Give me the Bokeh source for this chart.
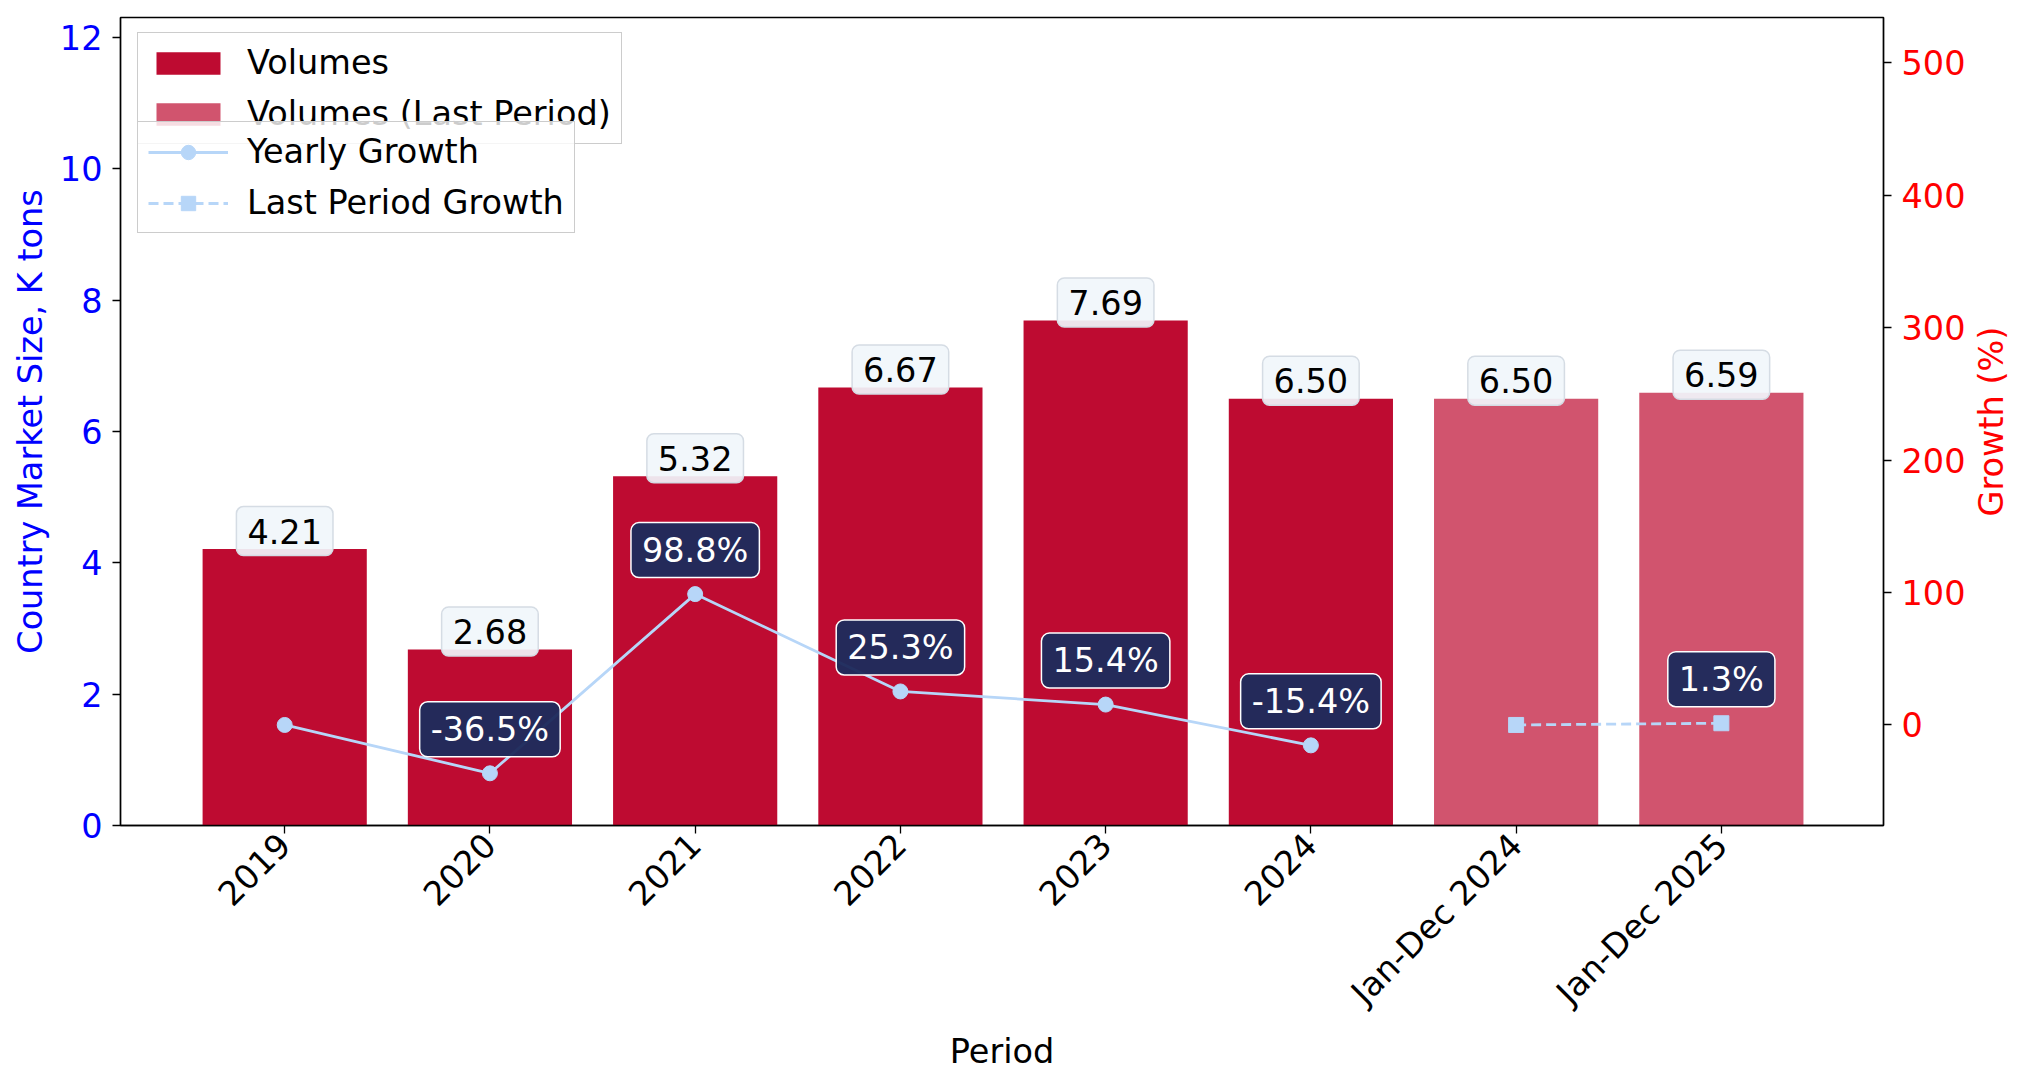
import math
from bokeh.plotting import figure
from bokeh.layouts import row
from bokeh.models import (Range1d, LinearAxis, FixedTicker, Legend, LegendItem,
                          Label, ColumnDataSource)
from bokeh.embed import file_html
from bokeh.resources import INLINE

# ---- data ----
periods = ["2019", "2020", "2021", "2022", "2023", "2024", "Jan-Dec 2024", "Jan-Dec 2025"]
volumes = [4.21, 2.68, 5.32, 6.67, 7.69, 6.50, 6.50, 6.59]
n_yearly = 6
yearly_growth = [0.0, -36.5, 98.8, 25.3, 15.4, -15.4]      # 2019 .. 2024
last_period_growth = [0.0, 1.3]                            # Jan-Dec 2024, Jan-Dec 2025
left_ticks = [0, 2, 4, 6, 8, 10, 12]
right_ticks = [0, 100, 200, 300, 400, 500]
right_title = "Growth (%)"

# ---- styles ----
FONT = "DejaVu Sans"
FS = "33.5px"
BAR = "#BE0B31"
LINE = "#B7D6F8"
NAVY = "#1F2B5C"

FRAME_W, FRAME_H = 1763, 808
xs = list(range(len(periods)))
x_year = xs[:n_yearly]
x_last = xs[n_yearly:]

p = figure(frame_width=FRAME_W, frame_height=FRAME_H,
           x_range=Range1d(-0.8, 7.79), y_range=Range1d(0, 12.305),
           output_backend="svg", toolbar_location=None,
           min_border_left=120, min_border_right=85, min_border_top=17, min_border_bottom=250)
p.extra_y_ranges = {"growth": Range1d(-75.9, 534.1)}
p.xgrid.visible = False
p.ygrid.visible = False
p.outline_line_color = "black"
p.outline_line_width = 1.4
p.outline_line_alpha = 1.0
p.background_fill_color = "white"
p.border_fill_color = "white"

src_year = ColumnDataSource(dict(x=x_year, v=volumes[:n_yearly]))
src_last = ColumnDataSource(dict(x=x_last, v=volumes[n_yearly:]))
r_bar = p.vbar(x="x", top="v", width=0.8, source=src_year, fill_color=BAR, line_color=None)
r_bar_last = p.vbar(x="x", top="v", width=0.8, source=src_last, fill_color=BAR,
                    fill_alpha=0.7, line_color=None)

r_line = p.line(x_year, yearly_growth, y_range_name="growth", line_color=LINE, line_width=2.8)
r_pts = p.scatter(x_year, yearly_growth, y_range_name="growth", marker="circle", size=15,
                  fill_color=LINE, line_color=LINE)
r_line2 = p.line(x_last, last_period_growth, y_range_name="growth", line_color=LINE,
                 line_width=2.8, line_dash="10 5")
r_sq = p.scatter(x_last, last_period_growth, y_range_name="growth", marker="square", size=15,
                 fill_color=LINE, line_color=LINE)

# ---- axes ----
xa = p.xaxis[0]
xa.ticker = FixedTicker(ticks=xs)
xa.major_label_overrides = {i: lab for i, lab in enumerate(periods)}
xa.major_label_orientation = math.pi / 4
xa.axis_label = "Period"

ya = p.yaxis[0]
ya.ticker = FixedTicker(ticks=left_ticks)
ya.axis_label = "Country Market Size, K tons"
ya.axis_label_text_color = "#0000FF"
ya.major_label_text_color = "#0000FF"

yr = LinearAxis(y_range_name="growth", ticker=FixedTicker(ticks=right_ticks))
yr.major_label_text_color = "#FF0000"
p.add_layout(yr, "right")

for ax in [xa, ya, yr]:
    ax.major_label_text_font = FONT
    ax.major_label_text_font_size = FS
    ax.axis_label_text_font = FONT
    ax.axis_label_text_font_size = FS
    ax.axis_label_text_font_style = "normal"
    ax.minor_tick_line_color = None
    ax.major_tick_out = 8
    ax.major_tick_in = 0
    ax.major_tick_line_width = 1.3
    ax.major_tick_line_color = "black"
    ax.axis_line_color = "black"
    ax.axis_line_width = 1.4
    ax.major_label_standoff = 10
    ax.axis_label_standoff = 7
xa.major_label_standoff = 6
xa.axis_label_standoff = 3
xa.axis_label_text_color = "black"
xa.major_label_text_color = "black"

# ---- value labels ----
for xi, v in zip(xs, volumes):
    p.add_layout(Label(x=xi, y=v, text=f"{v:.2f}", y_offset=18,
                       text_align="center", text_baseline="middle",
                       text_font=FONT, text_font_size=FS, text_color="black",
                       background_fill_color="#F1F6FB", background_fill_alpha=0.92,
                       border_line_color="#D5DCE4", border_line_width=1.5,
                       padding=dict(left=11, right=11, top=12, bottom=12), border_radius=7))

# ---- growth labels (first point of each series has no label) ----
for xs_g, gs in [(x_year, yearly_growth), (x_last, last_period_growth)]:
    for k, (xi, g) in enumerate(zip(xs_g, gs)):
        if k == 0:
            continue
        p.add_layout(Label(x=xi, y=g, y_range_name="growth", text=f"{g:.1f}%", y_offset=44,
                           text_align="center", text_baseline="middle",
                           text_font=FONT, text_font_size=FS, text_color="white",
                           background_fill_color=NAVY, background_fill_alpha=0.97,
                           border_line_color="white", border_line_width=1.5,
                           padding=dict(left=11, right=11, top=8, bottom=8), border_radius=8))

# ---- legends ----
def style_legend(lg, gh):
    lg.label_text_font = FONT
    lg.label_text_font_size = FS
    lg.label_text_color = "black"
    lg.label_height = 33
    lg.glyph_height = gh
    lg.glyph_width = 80
    lg.label_standoff = 19
    lg.spacing = 12
    lg.padding = 10
    lg.margin = 0
    lg.background_fill_color = "white"
    lg.background_fill_alpha = 0.8
    lg.border_line_color = "#CCCCCC"
    lg.border_line_width = 1.5
    lg.border_line_alpha = 1.0

leg1 = Legend(items=[LegendItem(label="Volumes", renderers=[r_bar]),
                     LegendItem(label="Volumes (Last Period)", renderers=[r_bar_last])],
              location=(17, 681))
leg2 = Legend(items=[LegendItem(label="Yearly Growth", renderers=[r_line, r_pts]),
                     LegendItem(label="Last Period Growth", renderers=[r_line2, r_sq])],
              location=(17, 592))
style_legend(leg1, 28)
style_legend(leg2, 36)
p.add_layout(leg1)
p.add_layout(leg2)

# ---- right-hand axis title (reads bottom-to-top, centred on the frame) ----
p2 = figure(frame_width=1, frame_height=FRAME_H, x_range=Range1d(0, 1), y_range=Range1d(0, 1),
            output_backend="svg", toolbar_location=None,
            min_border_left=36, min_border_right=0, min_border_top=17, min_border_bottom=250)
p2.xaxis.visible = False
p2.xgrid.visible = False
p2.ygrid.visible = False
p2.outline_line_color = None
p2.background_fill_color = "white"
p2.border_fill_color = "white"
ay2 = p2.yaxis[0]
ay2.ticker = FixedTicker(ticks=[])
ay2.axis_line_color = None
ay2.major_tick_line_color = None
ay2.minor_tick_line_color = None
ay2.major_tick_out = 0
ay2.major_label_standoff = 0
ay2.axis_label = right_title
ay2.axis_label_standoff = 0
ay2.axis_label_text_font = FONT
ay2.axis_label_text_font_size = FS
ay2.axis_label_text_font_style = "normal"
ay2.axis_label_text_color = "#FF0000"

open("out.html", "w").write(file_html(row(p, p2), INLINE))
